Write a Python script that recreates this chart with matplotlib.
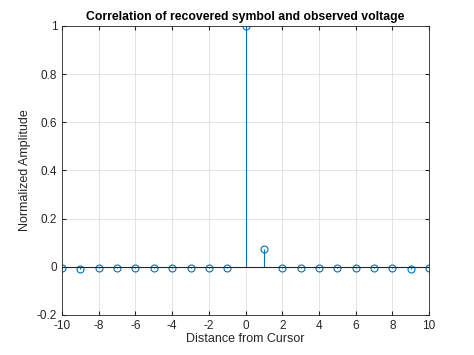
import numpy as np
import matplotlib.pyplot as plt

# lag values and normalized correlation
lags = np.arange(-10, 11)
corr = [-0.005, -0.01, -0.006, -0.006, -0.006, -0.006, -0.006, -0.006, -0.005, -0.005,
        1.0, 0.075,
        -0.005, -0.005, -0.005, -0.006, -0.005, -0.006, -0.006, -0.01, -0.006]

plt.rcParams['font.family'] = ['Liberation Sans', 'DejaVu Sans']
plt.rcParams['axes.unicode_minus'] = False
matlab_blue = (0, 0.447, 0.741)

fig = plt.figure(figsize=(4.74, 3.55), dpi=100)
ax = fig.add_axes([0.131, 0.113, 0.774, 0.814])

ml, sl, bl = ax.stem(lags, corr, basefmt='k-')
plt.setp(sl, color=matlab_blue, linewidth=0.8)
plt.setp(ml, color=matlab_blue, markerfacecolor='none', markersize=5, markeredgewidth=0.8)
plt.setp(bl, color='#262626', linewidth=0.8)

ax.set_xlim(-10, 10)
ax.set_ylim(-0.2, 1)
ax.set_xticks(np.arange(-10, 11, 2))
ax.set_yticks(np.arange(-0.2, 1.01, 0.2))
ax.set_yticklabels(['-0.2', '0', '0.2', '0.4', '0.6', '0.8', '1'])
ax.grid(True, color='#dfdfdf', linewidth=0.6)
ax.set_axisbelow(True)
ax.tick_params(direction='in', length=3, labelsize=8.5, colors='#262626', top=True, right=True,
               labeltop=False, labelright=False)
for s in ax.spines.values():
    s.set_color('#262626')
    s.set_linewidth(0.6)

ax.set_xlabel('Distance from Cursor', fontsize=9, color='#262626', labelpad=1)
ax.set_ylabel('Normalized Amplitude', fontsize=9, color='#262626', labelpad=4)
ax.set_title('Correlation of recovered symbol and observed voltage', fontsize=8.8, fontweight='bold', pad=4)

fig.savefig('out.png', dpi=100)
